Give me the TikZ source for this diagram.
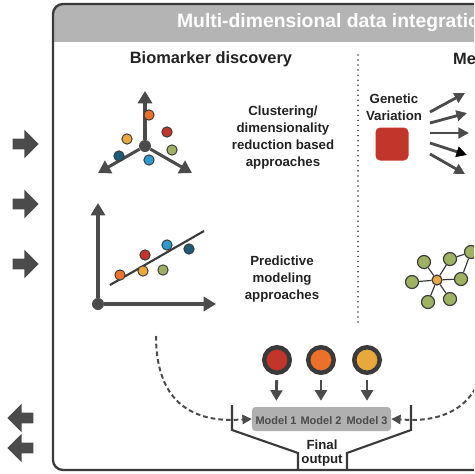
\documentclass[tikz,border=0pt]{standalone}
\usepackage{fontspec}
\setmainfont{Liberation Sans}
\usepackage{tikz}
\usetikzlibrary{arrows.meta,shapes,positioning,calc}

\definecolor{framegray}{HTML}{3A3A3A}
\definecolor{headgray}{HTML}{B4B4B4}
\definecolor{arrgray}{HTML}{4B4B4B}
\definecolor{boxgray}{HTML}{B0B0B0}
\definecolor{txtgray}{HTML}{222222}
\definecolor{redc}{HTML}{C1352B}
\definecolor{orangec}{HTML}{EC7029}
\definecolor{yellowc}{HTML}{E9A83C}
\definecolor{greenc}{HTML}{9FB263}
\definecolor{tealc}{HTML}{1D5B78}
\definecolor{bluec}{HTML}{2D9BC9}

\tikzstyle{blockarrow}=[single arrow, fill=arrgray, minimum height=0.78cm, inner xsep=0pt, inner ysep=0.155cm, single arrow head extend=0.265cm]
\tikzstyle{heading}=[text=txtgray, font=\fontsize{14}{16}\selectfont\bfseries]
\tikzstyle{txt}=[text=txtgray, align=center, font=\fontsize{11.3}{14.5}\selectfont\bfseries]
\tikzstyle{axis}=[arrgray, line width=2.6pt, -{Triangle[length=10.5pt,width=12pt]}]
\tikzstyle{bigdot}=[circle, fill=arrgray, minimum size=0.36cm, inner sep=0pt]
\tikzstyle{dot}=[circle, draw=framegray, line width=0.8pt, minimum size=0.31cm, inner sep=0pt]
\tikzstyle{netnode}=[circle, draw=framegray, fill=greenc, line width=1pt, minimum size=0.39cm, inner sep=0pt]
\tikzstyle{ring}=[circle, draw=framegray, line width=3.8pt, minimum size=0.765cm, inner sep=0pt]
\tikzstyle{modeltxt}=[text=arrgray, inner sep=0pt, text height=7pt, text depth=0pt, font=\fontsize{9.4}{11}\selectfont\bfseries]
\tikzstyle{dashcurve}=[arrgray, line width=1.7pt, dash pattern=on 4pt off 2.6pt, -{Triangle[length=8pt,width=8pt]}]
\tikzstyle{fanarrow}=[arrgray, line width=2.4pt, -{Triangle[length=9pt,width=9pt]}]

\begin{document}
\begin{tikzpicture}[x=0.03cm,y=-0.03cm]
  \useasboundingbox (0,0) rectangle (474,474);
  \clip (0,0) rectangle (474,474);

  % frame and header
  \begin{scope}
    \clip[rounded corners=0.3cm] (53,4) rectangle (530,470);
    \fill[headgray] (53,4) rectangle (530,42);
  \end{scope}
  \draw[framegray, line width=2pt, rounded corners=0.3cm] (53,4) rectangle (530,470);
  \node[anchor=west, text=white, font=\fontsize{16.5}{18}\selectfont\bfseries] (title) at (173,23) {Multi-dimensional data integration};

  \node[heading] (biomark) at (211,59) {Biomarker discovery};
  \node[heading, anchor=west] (mech) at (449,59) {Me};

  \coordinate (d1) at (358,55);
  \coordinate (d2) at (358,324);
  \draw[framegray, line width=1.5pt, line cap=round, dash pattern=on 0pt off 4.3pt] (d1) -- (d2);

  % side arrows
  \node[blockarrow] (in1) at (23,144) {};
  \node[blockarrow] (in2) at (23,204) {};
  \node[blockarrow] (in3) at (23,264) {};
  \node[blockarrow, shape border rotate=180] (out1) at (23,418) {};
  \node[blockarrow, shape border rotate=180] (out2) at (23,448) {};

  % clustering
  \node[bigdot] (tc) at (145,146) {};
  \coordinate (tup) at (145,91);
  \coordinate (tleft) at (98,173);
  \coordinate (tright) at (192,173);
  \draw[axis] (tc) -- (tup);
  \draw[axis] (tc) -- (tleft);
  \draw[axis] (tc) -- (tright);
  \node[dot, fill=orangec] (t1) at (149,115) {};
  \node[dot, fill=redc] (t2) at (167,132) {};
  \node[dot, fill=yellowc] (t3) at (127,139) {};
  \node[dot, fill=greenc] (t4) at (172,150) {};
  \node[dot, fill=tealc] (t5) at (119,156) {};
  \node[dot, fill=bluec] (t6) at (149,160) {};
  \node[txt] (clust) at (283,138) {Clustering/\\dimensionality\\reduction based\\approaches};

  % predictive
  \node[bigdot] (so) at (98,304) {};
  \coordinate (sy) at (98,203);
  \coordinate (sx) at (216,304);
  \draw[axis] (so) -- (sy);
  \draw[axis] (so) -- (sx);
  \coordinate (r1) at (110,285);
  \coordinate (r2) at (204,231);
  \draw[framegray, line width=1.8pt] (r1) -- (r2);
  \node[dot, fill=orangec] (s1) at (120,275) {};
  \node[dot, fill=redc] (s2) at (145,255) {};
  \node[dot, fill=bluec] (s3) at (167,245) {};
  \node[dot, fill=tealc] (s4) at (189,249) {};
  \node[dot, fill=yellowc] (s5) at (143,271) {};
  \node[dot, fill=greenc] (s6) at (163,270) {};
  \node[txt] (pred) at (282,279) {Predictive\\modeling\\approaches};

  % genetic variation
  \node[txt] (gen) at (394,107) {Genetic\\Variation};
  \node[rectangle, rounded corners=4pt, fill=redc, minimum size=0.99cm, inner sep=0pt] (gsq) at (392,144) {};
  \foreach \i/\ya/\xb/\yb/\tipc in {1/112/465/93/arrgray, 2/123/467/113/arrgray, 3/133/469/133/arrgray, 4/143/467/155/black, 5/154/465/174/arrgray} {
    \coordinate (gs\i) at (430,\ya);
    \coordinate (ge\i) at (\xb,\yb);
    \draw[fanarrow, -{Triangle[length=9pt,width=9pt,color=\tipc]}] (gs\i) -- (ge\i);
  }

  % network
  \node[netnode] (n1) at (424,262) {};
  \node[netnode] (n2) at (450,259) {};
  \node[netnode] (n3) at (471,252) {};
  \node[netnode] (n4) at (412,282) {};
  \node[netnode] (n5) at (461,279) {};
  \node[netnode] (n6) at (428,302) {};
  \node[netnode] (n7) at (450,299) {};
  \node[netnode, fill=yellowc, minimum size=0.3cm] (n0) at (437,280) {};
  \draw[framegray, line width=1pt] (n0) edge (n1) (n0) edge (n2) (n0) edge (n4) (n0) edge (n5) (n0) edge (n6) (n0) edge (n7) (n2) edge (n3) (n5) edge (n3);

  % models
  \node[ring, fill=redc] (c1) at (277,360) {};
  \node[ring, fill=orangec] (c2) at (321,360) {};
  \node[ring, fill=yellowc] (c3) at (367,360) {};
  \node[rectangle, rounded corners=3pt, fill=boxgray, minimum width=4.17cm, minimum height=0.72cm, inner sep=0pt] (models) at (321.5,419) {};
  \node[modeltxt] (m1) at (276,420) {Model 1};
  \node[modeltxt] (m2) at (321,420) {Model 2};
  \node[modeltxt] (m3) at (367,420) {Model 3};
  \foreach \i in {1,2,3}
    \draw[arrgray, line width=2.4pt, shorten <=4.3pt, shorten >=12.7pt, -{Triangle[length=9pt,width=10pt]}] (c\i) -- (m\i);

  \coordinate (lstart) at (156,336);
  \coordinate (lbar) at (232,420);
  \coordinate (rstart) at (487,336);
  \coordinate (rbar) at (411,420);
  \draw[dashcurve] (lstart) .. controls (156,395) and (185,420) .. (lbar) -- (models.west);
  \draw[dashcurve] (rstart) .. controls (487,395) and (458,420) .. (rbar) -- (models.east);

  \draw[framegray, line width=1.8pt] (232,405) -- (232,430) -- (298,453) -- (298,470);
  \draw[framegray, line width=1.8pt] (411,405) -- (411,430) -- (347,453) -- (347,470);
  \node[txt] (final) at (322,453) {Final\\[-2.5pt]output};
\end{tikzpicture}
\end{document}
